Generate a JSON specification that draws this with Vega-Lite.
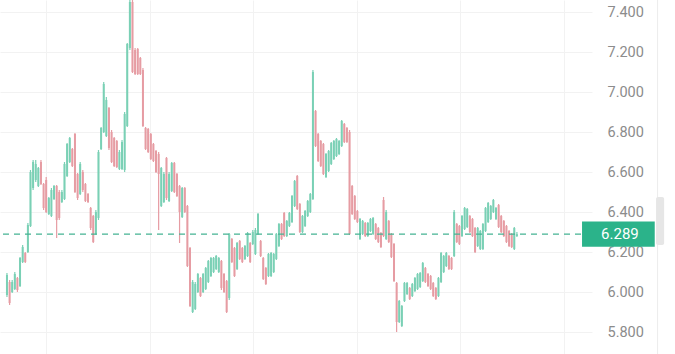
{
"$schema": "https://vega.github.io/schema/vega-lite/v6.json",
"width": 592, "height": 354,
"autosize": {"type": "none"},
"padding": {"left": 0, "top": 0, "right": 83, "bottom": 0},
"background": "white",
"config": {"view": {"stroke": null}},
"datasets": {
"bars": [
{"t":0,"o":5.985,"h":6.095,"l":5.975,"c":6.085},
{"t":1,"o":6.05,"h":6.06,"l":5.935,"c":5.945},
{"t":2,"o":6.0,"h":6.06,"l":5.995,"c":6.05},
{"t":3,"o":6.015,"h":6.1,"l":6.01,"c":6.09},
{"t":4,"o":6.07,"h":6.075,"l":6.0,"c":6.01},
{"t":5,"o":6.03,"h":6.175,"l":6.025,"c":6.17},
{"t":6,"o":6.15,"h":6.235,"l":6.145,"c":6.225},
{"t":7,"o":6.195,"h":6.2,"l":6.145,"c":6.15},
{"t":8,"o":6.2,"h":6.345,"l":6.195,"c":6.335},
{"t":9,"o":6.33,"h":6.61,"l":6.325,"c":6.6},
{"t":10,"o":6.52,"h":6.66,"l":6.51,"c":6.65},
{"t":11,"o":6.56,"h":6.66,"l":6.55,"c":6.64},
{"t":12,"o":6.53,"h":6.625,"l":6.525,"c":6.62},
{"t":13,"o":6.65,"h":6.66,"l":6.535,"c":6.54},
{"t":14,"o":6.54,"h":6.545,"l":6.41,"c":6.42},
{"t":15,"o":6.56,"h":6.575,"l":6.395,"c":6.4},
{"t":16,"o":6.39,"h":6.475,"l":6.385,"c":6.47},
{"t":17,"o":6.38,"h":6.52,"l":6.375,"c":6.51},
{"t":18,"o":6.465,"h":6.535,"l":6.46,"c":6.53},
{"t":19,"o":6.53,"h":6.535,"l":6.27,"c":6.36},
{"t":20,"o":6.5,"h":6.51,"l":6.36,"c":6.37},
{"t":21,"o":6.45,"h":6.51,"l":6.445,"c":6.5},
{"t":22,"o":6.465,"h":6.65,"l":6.46,"c":6.64},
{"t":23,"o":6.58,"h":6.745,"l":6.575,"c":6.74},
{"t":24,"o":6.65,"h":6.775,"l":6.645,"c":6.77},
{"t":25,"o":6.715,"h":6.72,"l":6.625,"c":6.63},
{"t":26,"o":6.79,"h":6.795,"l":6.495,"c":6.5},
{"t":27,"o":6.59,"h":6.595,"l":6.46,"c":6.47},
{"t":28,"o":6.49,"h":6.65,"l":6.485,"c":6.64},
{"t":29,"o":6.6,"h":6.61,"l":6.5,"c":6.51},
{"t":30,"o":6.54,"h":6.545,"l":6.45,"c":6.455},
{"t":31,"o":6.49,"h":6.495,"l":6.445,"c":6.45},
{"t":32,"o":6.42,"h":6.425,"l":6.31,"c":6.32},
{"t":33,"o":6.38,"h":6.385,"l":6.245,"c":6.25},
{"t":34,"o":6.29,"h":6.41,"l":6.285,"c":6.4},
{"t":35,"o":6.37,"h":6.71,"l":6.36,"c":6.7},
{"t":36,"o":6.715,"h":6.825,"l":6.71,"c":6.82},
{"t":37,"o":6.8,"h":7.05,"l":6.795,"c":7.04},
{"t":38,"o":6.78,"h":6.975,"l":6.775,"c":6.96},
{"t":39,"o":6.92,"h":6.925,"l":6.71,"c":6.72},
{"t":40,"o":6.8,"h":6.81,"l":6.645,"c":6.65},
{"t":41,"o":6.77,"h":6.775,"l":6.625,"c":6.63},
{"t":42,"o":6.755,"h":6.76,"l":6.62,"c":6.625},
{"t":43,"o":6.615,"h":6.71,"l":6.61,"c":6.7},
{"t":44,"o":6.615,"h":6.76,"l":6.61,"c":6.75},
{"t":45,"o":6.61,"h":6.9,"l":6.6,"c":6.89},
{"t":46,"o":6.83,"h":7.245,"l":6.825,"c":7.24},
{"t":47,"o":7.22,"h":7.5,"l":7.21,"c":7.45},
{"t":48,"o":7.45,"h":7.48,"l":7.095,"c":7.1},
{"t":49,"o":7.21,"h":7.22,"l":7.085,"c":7.09},
{"t":50,"o":7.215,"h":7.22,"l":7.085,"c":7.09},
{"t":51,"o":7.17,"h":7.175,"l":7.085,"c":7.09},
{"t":52,"o":7.11,"h":7.12,"l":6.825,"c":6.83},
{"t":53,"o":6.82,"h":6.825,"l":6.71,"c":6.715},
{"t":54,"o":6.815,"h":6.82,"l":6.695,"c":6.7},
{"t":55,"o":6.79,"h":6.795,"l":6.66,"c":6.665},
{"t":56,"o":6.74,"h":6.745,"l":6.65,"c":6.655},
{"t":57,"o":6.705,"h":6.71,"l":6.595,"c":6.6},
{"t":58,"o":6.69,"h":6.7,"l":6.31,"c":6.59},
{"t":59,"o":6.43,"h":6.625,"l":6.425,"c":6.62},
{"t":60,"o":6.45,"h":6.6,"l":6.445,"c":6.59},
{"t":61,"o":6.67,"h":6.675,"l":6.46,"c":6.47},
{"t":62,"o":6.455,"h":6.6,"l":6.45,"c":6.59},
{"t":63,"o":6.505,"h":6.65,"l":6.5,"c":6.645},
{"t":64,"o":6.645,"h":6.65,"l":6.495,"c":6.5},
{"t":65,"o":6.59,"h":6.595,"l":6.475,"c":6.48},
{"t":66,"o":6.53,"h":6.535,"l":6.245,"c":6.4},
{"t":67,"o":6.375,"h":6.525,"l":6.37,"c":6.52},
{"t":68,"o":6.52,"h":6.525,"l":6.395,"c":6.4},
{"t":69,"o":6.43,"h":6.435,"l":6.125,"c":6.13},
{"t":70,"o":6.22,"h":6.225,"l":5.925,"c":5.93},
{"t":71,"o":5.9,"h":6.06,"l":5.895,"c":6.05},
{"t":72,"o":5.915,"h":6.05,"l":5.91,"c":6.04},
{"t":73,"o":6.0,"h":6.095,"l":5.995,"c":6.09},
{"t":74,"o":6.07,"h":6.075,"l":5.975,"c":5.98},
{"t":75,"o":6.0,"h":6.095,"l":5.995,"c":6.09},
{"t":76,"o":6.015,"h":6.125,"l":6.01,"c":6.12},
{"t":77,"o":6.05,"h":6.16,"l":6.045,"c":6.155},
{"t":78,"o":6.08,"h":6.175,"l":6.075,"c":6.17},
{"t":79,"o":6.1,"h":6.175,"l":6.095,"c":6.17},
{"t":80,"o":6.115,"h":6.185,"l":6.11,"c":6.18},
{"t":81,"o":6.1,"h":6.175,"l":6.095,"c":6.17},
{"t":82,"o":6.155,"h":6.16,"l":6.01,"c":6.02},
{"t":83,"o":6.09,"h":6.095,"l":5.995,"c":6.0},
{"t":84,"o":6.055,"h":6.06,"l":5.895,"c":5.9},
{"t":85,"o":5.97,"h":6.295,"l":5.96,"c":6.29},
{"t":86,"o":6.265,"h":6.27,"l":6.145,"c":6.15},
{"t":87,"o":6.22,"h":6.225,"l":6.075,"c":6.08},
{"t":88,"o":6.115,"h":6.25,"l":6.11,"c":6.245},
{"t":89,"o":6.255,"h":6.26,"l":6.16,"c":6.165},
{"t":90,"o":6.22,"h":6.225,"l":6.145,"c":6.15},
{"t":91,"o":6.165,"h":6.235,"l":6.16,"c":6.23},
{"t":92,"o":6.18,"h":6.3,"l":6.175,"c":6.295},
{"t":93,"o":6.245,"h":6.25,"l":6.145,"c":6.15},
{"t":94,"o":6.24,"h":6.31,"l":6.235,"c":6.3},
{"t":95,"o":6.19,"h":6.32,"l":6.185,"c":6.31},
{"t":96,"o":6.29,"h":6.395,"l":6.285,"c":6.39},
{"t":97,"o":6.255,"h":6.26,"l":6.175,"c":6.18},
{"t":98,"o":6.17,"h":6.175,"l":6.06,"c":6.065},
{"t":99,"o":6.12,"h":6.125,"l":6.035,"c":6.04},
{"t":100,"o":6.08,"h":6.195,"l":6.075,"c":6.19},
{"t":101,"o":6.08,"h":6.2,"l":6.075,"c":6.195},
{"t":102,"o":6.1,"h":6.195,"l":6.095,"c":6.19},
{"t":103,"o":6.165,"h":6.295,"l":6.16,"c":6.29},
{"t":104,"o":6.23,"h":6.345,"l":6.225,"c":6.34},
{"t":105,"o":6.34,"h":6.345,"l":6.26,"c":6.265},
{"t":106,"o":6.395,"h":6.4,"l":6.275,"c":6.28},
{"t":107,"o":6.28,"h":6.36,"l":6.275,"c":6.355},
{"t":108,"o":6.33,"h":6.4,"l":6.325,"c":6.395},
{"t":109,"o":6.35,"h":6.485,"l":6.345,"c":6.48},
{"t":110,"o":6.43,"h":6.56,"l":6.425,"c":6.555},
{"t":111,"o":6.58,"h":6.585,"l":6.41,"c":6.415},
{"t":112,"o":6.44,"h":6.445,"l":6.295,"c":6.3},
{"t":113,"o":6.3,"h":6.385,"l":6.295,"c":6.38},
{"t":114,"o":6.33,"h":6.41,"l":6.325,"c":6.405},
{"t":115,"o":6.38,"h":6.46,"l":6.375,"c":6.455},
{"t":116,"o":6.4,"h":6.495,"l":6.395,"c":6.49},
{"t":117,"o":6.465,"h":7.11,"l":6.46,"c":7.1},
{"t":118,"o":6.905,"h":6.91,"l":6.725,"c":6.73},
{"t":119,"o":6.79,"h":6.795,"l":6.65,"c":6.655},
{"t":120,"o":6.755,"h":6.76,"l":6.625,"c":6.63},
{"t":121,"o":6.74,"h":6.745,"l":6.585,"c":6.59},
{"t":122,"o":6.575,"h":6.695,"l":6.57,"c":6.69},
{"t":123,"o":6.605,"h":6.71,"l":6.6,"c":6.705},
{"t":124,"o":6.64,"h":6.75,"l":6.635,"c":6.745},
{"t":125,"o":6.665,"h":6.76,"l":6.66,"c":6.755},
{"t":126,"o":6.68,"h":6.77,"l":6.675,"c":6.765},
{"t":127,"o":6.69,"h":6.76,"l":6.685,"c":6.755},
{"t":128,"o":6.73,"h":6.86,"l":6.725,"c":6.855},
{"t":129,"o":6.84,"h":6.845,"l":6.745,"c":6.75},
{"t":130,"o":6.82,"h":6.825,"l":6.745,"c":6.75},
{"t":131,"o":6.8,"h":6.81,"l":6.285,"c":6.29},
{"t":132,"o":6.53,"h":6.535,"l":6.385,"c":6.39},
{"t":133,"o":6.48,"h":6.485,"l":6.36,"c":6.365},
{"t":134,"o":6.405,"h":6.41,"l":6.345,"c":6.35},
{"t":135,"o":6.265,"h":6.37,"l":6.26,"c":6.365},
{"t":136,"o":6.29,"h":6.36,"l":6.285,"c":6.355},
{"t":137,"o":6.345,"h":6.35,"l":6.275,"c":6.28},
{"t":138,"o":6.28,"h":6.35,"l":6.275,"c":6.345},
{"t":139,"o":6.305,"h":6.37,"l":6.3,"c":6.365},
{"t":140,"o":6.29,"h":6.375,"l":6.285,"c":6.37},
{"t":141,"o":6.34,"h":6.345,"l":6.26,"c":6.265},
{"t":142,"o":6.32,"h":6.325,"l":6.245,"c":6.25},
{"t":143,"o":6.295,"h":6.3,"l":6.22,"c":6.225},
{"t":144,"o":6.46,"h":6.475,"l":6.275,"c":6.28},
{"t":145,"o":6.265,"h":6.41,"l":6.26,"c":6.4},
{"t":146,"o":6.355,"h":6.36,"l":6.245,"c":6.25},
{"t":147,"o":6.29,"h":6.295,"l":6.17,"c":6.175},
{"t":148,"o":6.24,"h":6.245,"l":6.05,"c":6.055},
{"t":149,"o":6.045,"h":6.05,"l":5.8,"c":5.85},
{"t":150,"o":5.85,"h":5.96,"l":5.845,"c":5.955},
{"t":151,"o":5.83,"h":5.935,"l":5.825,"c":5.93},
{"t":152,"o":5.955,"h":6.05,"l":5.95,"c":6.045},
{"t":153,"o":5.99,"h":6.05,"l":5.985,"c":6.045},
{"t":154,"o":6.02,"h":6.025,"l":5.96,"c":5.965},
{"t":155,"o":5.98,"h":6.045,"l":5.975,"c":6.04},
{"t":156,"o":6.005,"h":6.075,"l":6.0,"c":6.07},
{"t":157,"o":6.015,"h":6.095,"l":6.01,"c":6.09},
{"t":158,"o":6.025,"h":6.1,"l":6.02,"c":6.095},
{"t":159,"o":6.055,"h":6.15,"l":6.05,"c":6.145},
{"t":160,"o":6.12,"h":6.125,"l":6.045,"c":6.05},
{"t":161,"o":6.09,"h":6.095,"l":6.025,"c":6.03},
{"t":162,"o":6.08,"h":6.085,"l":6.01,"c":6.015},
{"t":163,"o":6.045,"h":6.05,"l":5.975,"c":5.98},
{"t":164,"o":6.02,"h":6.025,"l":5.96,"c":5.965},
{"t":165,"o":5.98,"h":6.075,"l":5.975,"c":6.07},
{"t":166,"o":6.05,"h":6.2,"l":6.045,"c":6.195},
{"t":167,"o":6.1,"h":6.185,"l":6.095,"c":6.18},
{"t":168,"o":6.13,"h":6.2,"l":6.125,"c":6.195},
{"t":169,"o":6.18,"h":6.185,"l":6.11,"c":6.115},
{"t":170,"o":6.17,"h":6.175,"l":6.11,"c":6.115},
{"t":171,"o":6.18,"h":6.41,"l":6.175,"c":6.4},
{"t":172,"o":6.34,"h":6.345,"l":6.245,"c":6.25},
{"t":173,"o":6.33,"h":6.335,"l":6.235,"c":6.24},
{"t":174,"o":6.28,"h":6.385,"l":6.275,"c":6.38},
{"t":175,"o":6.315,"h":6.425,"l":6.31,"c":6.42},
{"t":176,"o":6.325,"h":6.42,"l":6.32,"c":6.415},
{"t":177,"o":6.38,"h":6.385,"l":6.295,"c":6.3},
{"t":178,"o":6.365,"h":6.37,"l":6.275,"c":6.28},
{"t":179,"o":6.32,"h":6.325,"l":6.195,"c":6.2},
{"t":180,"o":6.23,"h":6.325,"l":6.225,"c":6.32},
{"t":181,"o":6.215,"h":6.31,"l":6.21,"c":6.305},
{"t":182,"o":6.215,"h":6.345,"l":6.21,"c":6.34},
{"t":183,"o":6.305,"h":6.425,"l":6.3,"c":6.42},
{"t":184,"o":6.35,"h":6.45,"l":6.345,"c":6.445},
{"t":185,"o":6.365,"h":6.435,"l":6.36,"c":6.43},
{"t":186,"o":6.4,"h":6.465,"l":6.395,"c":6.46},
{"t":187,"o":6.365,"h":6.425,"l":6.36,"c":6.42},
{"t":188,"o":6.435,"h":6.44,"l":6.32,"c":6.325},
{"t":189,"o":6.38,"h":6.385,"l":6.295,"c":6.3},
{"t":190,"o":6.355,"h":6.36,"l":6.275,"c":6.28},
{"t":191,"o":6.33,"h":6.335,"l":6.245,"c":6.25},
{"t":192,"o":6.305,"h":6.31,"l":6.225,"c":6.23},
{"t":193,"o":6.29,"h":6.295,"l":6.22,"c":6.225},
{"t":194,"o":6.215,"h":6.325,"l":6.21,"c":6.32},
{"t":195,"o":6.28,"h":6.3,"l":6.275,"c":6.289}
],
"last": [{"price": 6.289}]
},
"layer": [
{
"data": {"name": "bars"},
"mark": {"type": "rule", "clip": true, "strokeWidth": 1.2},
"encoding": {
"x": {"field": "t", "type": "quantitative",
"scale": {"domain": [-0.75, 221.8], "nice": false, "zero": false},
"axis": {"values": [15, 54.6, 94.2, 133.8, 173.4, 213], "labels": false, "ticks": false, "domain": false, "title": null, "grid": true, "gridColor": "#f2f2f2", "gridWidth": 1}},
"y": {"field": "l", "type": "quantitative",
"scale": {"domain": [5.69, 7.46], "nice": false, "zero": false},
"axis": {"orient": "right", "values": [5.8, 6.0, 6.2, 6.4, 6.6, 6.8, 7.0, 7.2, 7.4], "format": ".3f", "labelPadding": 15, "ticks": false, "domain": false, "title": null, "grid": true, "gridColor": "#f2f2f2", "labelColor": "#8c8c8c", "labelFont": "Roboto", "labelFontSize": 14.5}},
"y2": {"field": "h"},
"color": {"condition": {"test": "datum.c >= datum.o", "value": "#7ad0b5"}, "value": "#e69ca3"}
}
},
{
"data": {"name": "bars"},
"mark": {"type": "bar", "clip": true, "size": 2},
"encoding": {
"x": {"field": "t", "type": "quantitative"},
"y": {"field": "o", "type": "quantitative"},
"y2": {"field": "c"},
"color": {"condition": {"test": "datum.c >= datum.o", "value": "#7ad0b5"}, "value": "#e69ca3"}
}
},
{
"data": {"name": "last"},
"mark": {"type": "rule", "color": "#45b393", "strokeWidth": 1.2, "strokeDash": [6, 5]},
"encoding": {"y": {"field": "price", "type": "quantitative"}}
},
{
"data": {"name": "last"},
"mark": {"type": "rule", "color": "#ececec", "strokeWidth": 1},
"encoding": {"x": {"datum": 248.8, "type": "quantitative"}}
},
{
"data": {"name": "last"},
"mark": {"type": "rect", "color": "#e6e6e6", "cornerRadius": 2},
"encoding": {"x": {"datum": 248.2, "type": "quantitative"}, "x2": {"datum": 251.3}, "y": {"datum": 6.475, "type": "quantitative"}, "y2": {"datum": 6.235}}
},
{
"data": {"name": "last"},
"mark": {"type": "rect", "color": "#2bb38a"},
"encoding": {"x": {"datum": 219.9, "type": "quantitative"}, "x2": {"datum": 247.7}, "y": {"datum": 6.352, "type": "quantitative"}, "y2": {"datum": 6.226}}
},
{
"data": {"name": "last"},
"mark": {"type": "text", "align": "left", "baseline": "middle", "color": "white", "font": "Roboto", "fontSize": 15},
"encoding": {"x": {"datum": 227.2, "type": "quantitative"}, "y": {"field": "price", "type": "quantitative"}, "text": {"field": "price", "type": "quantitative", "format": ".3f"}}
}
]
}
